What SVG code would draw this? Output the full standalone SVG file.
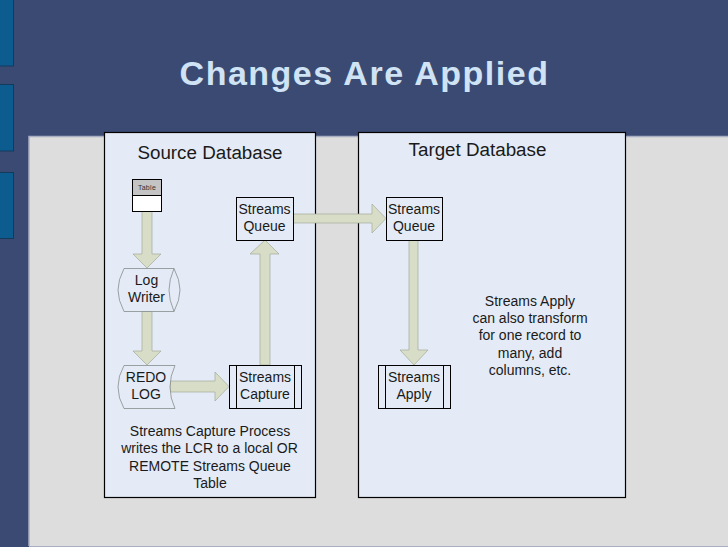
<svg xmlns="http://www.w3.org/2000/svg" width="728" height="547" viewBox="0 0 728 547">
<style>
text{font-family:"Liberation Sans",Arial,sans-serif;fill:#1a1a1a;text-anchor:middle;font-size:14px}
.box{fill:#e4ebf6;stroke:#000;stroke-width:1.200}
.n{fill:#e4ebf6;stroke:#000;stroke-width:1}
.l{fill:none;stroke:#000;stroke-width:1}
.s{fill:#e4ebf6;stroke:#77807c;stroke-width:.7}
.a{fill:#d8ddc8;stroke:#a4ab98;stroke-width:.7}
.tab{fill:#0d5c8f;stroke:#123a5c;stroke-width:1}
.h{font-size:18.800px}
</style>
<rect width="728" height="547" fill="#3b4a72"/>
<rect x="29" y="136" width="699" height="410" fill="#dddddd"/>
<path d="M29 546V136.500H728" fill="none" stroke="#a9afc2" stroke-width="1.500"/>
<path d="M29 546.500H728" stroke="#a9afc2" stroke-width="1"/>
<g id="sidebar-tabs">
<rect class="tab" x="-2" y="-2" width="15.500" height="68"/>
<rect class="tab" x="-2" y="84.500" width="15.500" height="66.500"/>
<rect class="tab" x="-2" y="172.500" width="15.500" height="66"/>
</g>
<text id="title" x="364.500" y="85" style="font-size:34px;font-weight:bold;fill:#cfe3f5;letter-spacing:1.500px">Changes Are Applied</text>
<g id="source-database">
<rect class="box" x="104.500" y="132.500" width="211" height="365"/>
<text class="h" x="210" y="159">Source Database</text>
<text x="210" y="436">Streams Capture Process</text>
<text x="209.500" y="453">writes the LCR to a local OR</text>
<text x="210" y="471">REMOTE Streams Queue</text>
<text x="210" y="488">Table</text>
</g>
<g id="target-database">
<rect class="box" x="358.500" y="132.500" width="267" height="365"/>
<text class="h" x="477.500" y="156">Target Database</text>
<text x="530" y="306">Streams Apply</text>
<text x="530" y="323">can also transform</text>
<text x="530" y="340">for one record to</text>
<text x="530" y="358">many, add</text>
<text x="530" y="375">columns, etc.</text>
</g>
<g id="connectors">
<path class="a" d="M142 211H152V254H161L147 268L133 254H142Z"/>
<path class="a" d="M142 311H152V351H161L147 365L133 351H142Z"/>
<path class="a" d="M170 381H215V372L229 386.500L215 401V392H170Z"/>
<path class="a" d="M260 365V254H250L265 240L279 254H270V365Z"/>
<path class="a" d="M293 214H372V204L386 218.500L372 233V223H293Z"/>
<path class="a" d="M409 240H418V350H428L414 365L400 350H409Z"/>
</g>
<g id="table">
<rect x="132.500" y="179.500" width="29" height="16" fill="#c4c4c4" stroke="#000" stroke-width="1"/>
<rect x="132.500" y="195.500" width="29" height="16" fill="#fff" stroke="#000" stroke-width="1"/>
<text x="147" y="189.500" style="font-size:7px;letter-spacing:.3px;fill:#333">Table</text>
</g>
<g id="log-writer">
<path class="s" d="M124 268.500H174Q180 280 180 290Q180 300 174 311.500H124Q118 300 118 290Q118 280 124 268.500Z"/>
<path class="s" d="M174 268.500Q169 280 169 290Q169 300 174 311.500" fill="none"/>
<text x="146.500" y="285">Log</text>
<text x="146.500" y="302">Writer</text>
</g>
<g id="redo-log">
<path class="s" d="M124 365.500H175Q170 376 170 387Q170 398 175 408.500H124Q118 398 118 387Q118 376 124 365.500Z"/>
<text x="146" y="382">REDO</text>
<text x="146" y="399">LOG</text>
</g>
<g id="streams-capture">
<rect class="n" x="229.500" y="365.500" width="72" height="43"/>
<path class="l" d="M236.500 365.500V408.500M294.500 365.500V408.500"/>
<text x="265" y="382">Streams</text>
<text x="265" y="399">Capture</text>
</g>
<g id="source-queue">
<rect class="n" x="236.500" y="197.500" width="57" height="43"/>
<text x="264.500" y="214">Streams</text>
<text x="264.500" y="231">Queue</text>
</g>
<g id="target-queue">
<rect class="n" x="386.500" y="197.500" width="56" height="43"/>
<text x="414" y="214">Streams</text>
<text x="414" y="231">Queue</text>
</g>
<g id="streams-apply">
<rect class="n" x="378.500" y="365.500" width="72" height="43"/>
<path class="l" d="M385.500 365.500V408.500M443.500 365.500V408.500"/>
<text x="414" y="382">Streams</text>
<text x="414" y="399">Apply</text>
</g>
</svg>
